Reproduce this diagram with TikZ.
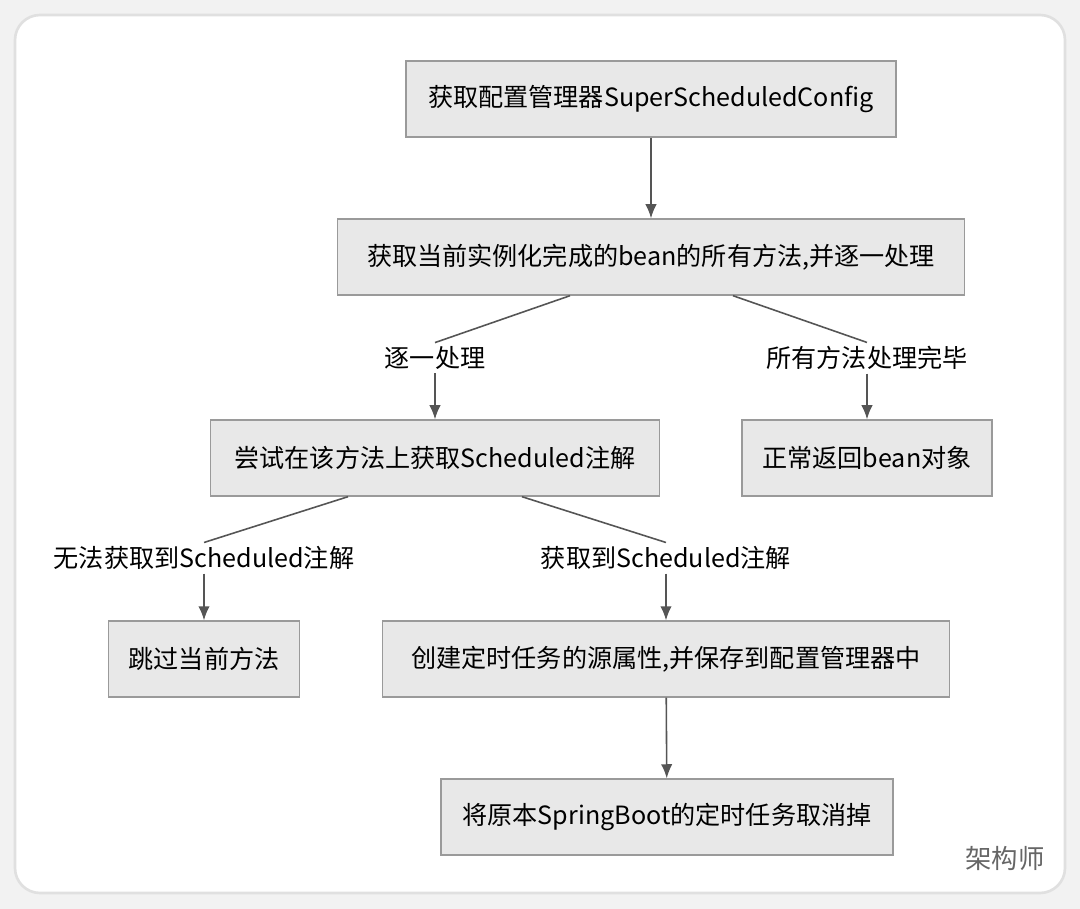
\documentclass[tikz,border=0pt]{standalone}
\usepackage{fontspec}
\setmainfont{Noto Sans CJK SC}
\usetikzlibrary{arrows.meta}
\definecolor{boxfill}{HTML}{E8E8E8}
\definecolor{boxline}{HTML}{9A9A9A}
\definecolor{edgeline}{HTML}{555555}
\tikzset{
	stepbox/.style={draw=boxline, fill=boxfill, line width=0.8pt, minimum height=1.52cm, inner xsep=0.3cm, font=\fontsize{14.3}{16}\selectfont},
	edgelabel/.style={fill=white, inner sep=2pt, font=\fontsize{14.3}{16}\selectfont},
	flow/.style={draw=edgeline, line width=0.9pt},
	arrowed/.style={flow, -{Latex[length=8pt,width=6.5pt]}}
}
\begin{document}
\begin{tikzpicture}[x=0.02cm, y=-0.02cm]
	\useasboundingbox (0,0) rectangle (1080,909);
	\fill[white!95!black] (0,0) rectangle (1080,909);
	\draw[draw=black!12, line width=1.5pt, fill=white, rounded corners=0.5cm] (15,15) rectangle (1065,893);

	% boxes
	\node[stepbox, minimum width=9.8cm] (cfg) at (651,99) {获取配置管理器SuperScheduledConfig};
	\node[stepbox, minimum width=12.54cm] (methods) at (651,257) {获取当前实例化完成的bean的所有方法,并逐一处理};
	\node[stepbox, minimum width=8.98cm] (anno) at (435,458) {尝试在该方法上获取Scheduled注解};
	\node[stepbox, minimum width=5cm] (ret) at (867,458) {正常返回bean对象};
	\node[stepbox, minimum width=3.82cm] (skip) at (204,659) {跳过当前方法};
	\node[stepbox, minimum width=11.34cm] (create) at (666,659) {创建定时任务的源属性,并保存到配置管理器中};
	\node[stepbox, minimum width=9.04cm] (cancel) at (667,817) {将原本SpringBoot的定时任务取消掉};

	% labels
	\node[edgelabel] (each) at (435,358) {逐一处理};
	\node[edgelabel] (done) at (867,358) {所有方法处理完毕};
	\node[edgelabel] (noanno) at (204,558) {无法获取到Scheduled注解};
	\node[edgelabel] (hasanno) at (666,558) {获取到Scheduled注解};

	% connectors
	\draw[arrowed] (cfg) -- (methods);
	\draw[flow] ([xshift=-1.62cm]methods.south) -- (each.north);
	\draw[arrowed] (each) -- (anno);
	\draw[flow] ([xshift=1.64cm]methods.south) -- (done.north);
	\draw[arrowed] (done) -- (ret);
	\draw[flow] ([xshift=-1.74cm]anno.south) -- (noanno.north);
	\draw[arrowed] (noanno) -- (skip);
	\draw[flow] ([xshift=1.74cm]anno.south) -- (hasanno.north);
	\draw[arrowed] (hasanno) -- (create);
	\draw[arrowed] (create) -- (cancel);

	\node[text=black!60, font=\fontsize{15}{17}\selectfont] (mark) at (1005,858) {架构师};
\end{tikzpicture}
\end{document}
